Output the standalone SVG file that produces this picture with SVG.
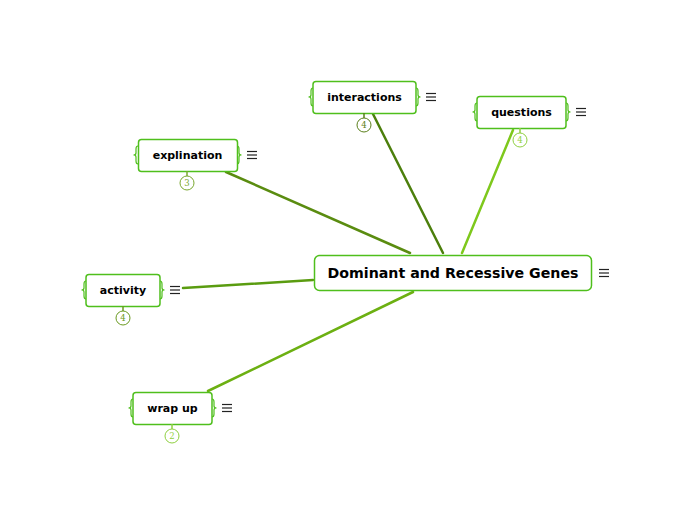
<svg xmlns="http://www.w3.org/2000/svg" width="697" height="520" viewBox="0 0 697 520">
<style>
.box{fill:#fff;stroke:#4fbf1c;stroke-width:1.5}
.brace{fill:none;stroke:#4fbf1c;stroke-width:1.2}
.lbl{font-family:"DejaVu Sans",Verdana,sans-serif;font-weight:bold;font-size:11px;fill:#000;text-anchor:middle}
.main{font-size:14.2px}
.menu{stroke:#222;stroke-width:1.2}
.badge{fill:#fff;stroke-width:1}
.num{font-family:"DejaVu Serif","Liberation Serif",serif;font-size:8.5px;text-anchor:middle}
.conn{fill:none;stroke-width:2.5;stroke-linecap:round}
</style>
<defs>
<g id="menu"><line class="menu" x1="0" y1="-3.5" x2="10" y2="-3.5"/><line class="menu" x1="0" y1="0" x2="10" y2="0"/><line class="menu" x1="0" y1="3.5" x2="10" y2="3.5"/></g>
<path id="lb" class="brace" d="M3,-9 q-2,0 -2,3 v4 q0,2 -2.5,2 q2.5,0 2.5,2 v4 q0,3 2,3"/>
<path id="rb" class="brace" d="M-3,-9 q2,0 2,3 v4 q0,2 2.5,2 q-2.5,0 -2.5,2 v4 q0,3 -2,3"/>
</defs>
<g id="connectors">
<line class="conn" x1="226" y1="172" x2="410" y2="253" stroke="#5a8c10"/>
<line class="conn" x1="373" y1="114" x2="443" y2="253" stroke="#4c7f0c"/>
<line class="conn" x1="513" y1="130" x2="462" y2="253" stroke="#7ec81c"/>
<line class="conn" x1="183" y1="288" x2="313" y2="280" stroke="#5a9c10"/>
<line class="conn" x1="208" y1="391" x2="413" y2="292" stroke="#6cb012"/>
</g>
<g id="central">
<rect class="box" x="314.5" y="255.5" width="277" height="35" rx="5"/>
<text class="lbl main" x="453" y="278">Dominant and Recessive Genes</text>
<use href="#menu" x="599" y="273"/>
</g>
<g id="interactions">
<rect class="box" x="313" y="81.5" width="103" height="32" rx="3"/>
<use href="#lb" x="310" y="97"/><use href="#rb" x="419" y="97"/>
<text class="lbl" x="364.5" y="101">interactions</text>
<use href="#menu" x="426" y="97"/>
<line x1="364" y1="113" x2="364" y2="118" stroke="#5a7f1a" stroke-width="1.5"/>
<circle class="badge" cx="364" cy="125" r="7" stroke="#5a7f1a"/>
<text class="num" x="364" y="128" fill="#5a7f1a">4</text>
</g>
<g id="questions">
<rect class="box" x="477" y="96.5" width="89" height="32" rx="3"/>
<use href="#lb" x="474" y="112"/><use href="#rb" x="569" y="112"/>
<text class="lbl" x="521.5" y="116">questions</text>
<use href="#menu" x="576" y="112"/>
<line x1="520" y1="128" x2="520" y2="133" stroke="#8fd040" stroke-width="1.5"/>
<circle class="badge" cx="520" cy="140" r="7" stroke="#8fd040"/>
<text class="num" x="520" y="143" fill="#8fd040">4</text>
</g>
<g id="explination">
<rect class="box" x="138.5" y="139.5" width="99" height="32" rx="3"/>
<use href="#lb" x="135" y="155"/><use href="#rb" x="240" y="155"/>
<text class="lbl" x="187.5" y="159">explination</text>
<use href="#menu" x="247" y="155"/>
<line x1="187" y1="171" x2="187" y2="176" stroke="#7aa830" stroke-width="1.5"/>
<circle class="badge" cx="187" cy="183" r="7" stroke="#7aa830"/>
<text class="num" x="187" y="186" fill="#7aa830">3</text>
</g>
<g id="activity">
<rect class="box" x="86" y="274.5" width="74" height="32" rx="3"/>
<use href="#lb" x="83" y="290"/><use href="#rb" x="163" y="290"/>
<text class="lbl" x="123" y="294">activity</text>
<use href="#menu" x="170" y="290"/>
<line x1="123" y1="306" x2="123" y2="311" stroke="#6a9a20" stroke-width="1.5"/>
<circle class="badge" cx="123" cy="318" r="7" stroke="#6a9a20"/>
<text class="num" x="123" y="321" fill="#6a9a20">4</text>
</g>
<g id="wrapup">
<rect class="box" x="133" y="392.5" width="79" height="32" rx="3"/>
<use href="#lb" x="130" y="408"/><use href="#rb" x="215" y="408"/>
<text class="lbl" x="172.5" y="412">wrap up</text>
<use href="#menu" x="222" y="408"/>
<line x1="172" y1="424" x2="172" y2="429" stroke="#8fd040" stroke-width="1.5"/>
<circle class="badge" cx="172" cy="436" r="7" stroke="#8fd040"/>
<text class="num" x="172" y="439" fill="#8fd040">2</text>
</g>
</svg>
